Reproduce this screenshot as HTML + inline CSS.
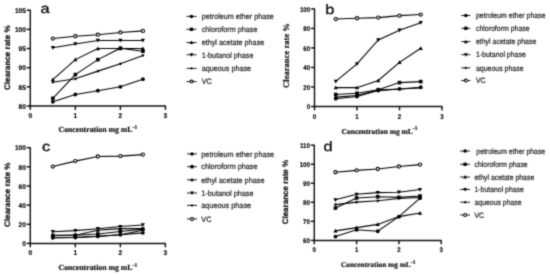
<!DOCTYPE html>
<html><head><meta charset="utf-8"><title>Clearance rate</title>
<style>
html,body{margin:0;padding:0;background:#fff;}
body{width:550px;height:274px;overflow:hidden;}
svg{display:block;text-rendering:geometricPrecision;}
</style></head>
<body>
<svg width="550" height="274" viewBox="0 0 550 274">
<defs><filter id="soft" x="0" y="0" width="1" height="1" filterUnits="objectBoundingBox" color-interpolation-filters="sRGB"><feConvolveMatrix order="3" kernelMatrix="1 4 1 4 16 4 1 4 1" edgeMode="duplicate"/></filter></defs>
<rect width="550" height="274" fill="#fff"/>
<g filter="url(#soft)">
<rect width="550" height="274" fill="#fff"/>
<line x1="30.30" y1="9.70" x2="30.30" y2="106.72" stroke="#111" stroke-width="1.45"/>
<line x1="29.57" y1="106.00" x2="165.95" y2="106.00" stroke="#111" stroke-width="1.45"/>
<line x1="26.70" y1="106.00" x2="30.30" y2="106.00" stroke="#111" stroke-width="1.45"/>
<text transform="translate(25.90,108.70) scale(0.97,1)" text-anchor="end" font-family='"Liberation Sans", Arial, sans-serif' font-weight="bold" font-size="6.8" fill="#000" stroke="#000" stroke-width="0.12">80</text>
<line x1="26.70" y1="86.84" x2="30.30" y2="86.84" stroke="#111" stroke-width="1.45"/>
<text transform="translate(25.90,89.54) scale(0.97,1)" text-anchor="end" font-family='"Liberation Sans", Arial, sans-serif' font-weight="bold" font-size="6.8" fill="#000" stroke="#000" stroke-width="0.12">85</text>
<line x1="26.70" y1="67.68" x2="30.30" y2="67.68" stroke="#111" stroke-width="1.45"/>
<text transform="translate(25.90,70.38) scale(0.97,1)" text-anchor="end" font-family='"Liberation Sans", Arial, sans-serif' font-weight="bold" font-size="6.8" fill="#000" stroke="#000" stroke-width="0.12">90</text>
<line x1="26.70" y1="48.52" x2="30.30" y2="48.52" stroke="#111" stroke-width="1.45"/>
<text transform="translate(25.90,51.22) scale(0.97,1)" text-anchor="end" font-family='"Liberation Sans", Arial, sans-serif' font-weight="bold" font-size="6.8" fill="#000" stroke="#000" stroke-width="0.12">95</text>
<line x1="26.70" y1="29.36" x2="30.30" y2="29.36" stroke="#111" stroke-width="1.45"/>
<text transform="translate(25.90,32.06) scale(0.97,1)" text-anchor="end" font-family='"Liberation Sans", Arial, sans-serif' font-weight="bold" font-size="6.8" fill="#000" stroke="#000" stroke-width="0.12">100</text>
<line x1="26.70" y1="10.20" x2="30.30" y2="10.20" stroke="#111" stroke-width="1.45"/>
<text transform="translate(25.90,12.90) scale(0.97,1)" text-anchor="end" font-family='"Liberation Sans", Arial, sans-serif' font-weight="bold" font-size="6.8" fill="#000" stroke="#000" stroke-width="0.12">105</text>
<line x1="30.30" y1="106.00" x2="30.30" y2="109.90" stroke="#111" stroke-width="1.45"/>
<text transform="translate(30.30,117.60) scale(0.97,1)" text-anchor="middle" font-family='"Liberation Sans", Arial, sans-serif' font-weight="bold" font-size="6.8" fill="#000" stroke="#000" stroke-width="0.12">0</text>
<line x1="75.35" y1="106.00" x2="75.35" y2="109.90" stroke="#111" stroke-width="1.45"/>
<text transform="translate(75.35,117.60) scale(0.97,1)" text-anchor="middle" font-family='"Liberation Sans", Arial, sans-serif' font-weight="bold" font-size="6.8" fill="#000" stroke="#000" stroke-width="0.12">1</text>
<line x1="120.40" y1="106.00" x2="120.40" y2="109.90" stroke="#111" stroke-width="1.45"/>
<text transform="translate(120.40,117.60) scale(0.97,1)" text-anchor="middle" font-family='"Liberation Sans", Arial, sans-serif' font-weight="bold" font-size="6.8" fill="#000" stroke="#000" stroke-width="0.12">2</text>
<line x1="165.45" y1="106.00" x2="165.45" y2="109.90" stroke="#111" stroke-width="1.45"/>
<text transform="translate(165.45,117.60) scale(0.97,1)" text-anchor="middle" font-family='"Liberation Sans", Arial, sans-serif' font-weight="bold" font-size="6.8" fill="#000" stroke="#000" stroke-width="0.12">3</text>
<polyline points="52.83,38.56 75.35,36.26 97.87,34.72 120.40,32.43 142.93,30.89" fill="none" stroke="#000" stroke-width="1.1"/>
<polyline points="52.83,47.75 75.35,43.92 97.87,40.47 120.40,40.47 142.93,40.47" fill="none" stroke="#000" stroke-width="1.1"/>
<polyline points="52.83,79.56 75.35,59.63 97.87,48.52 120.40,48.52 142.93,48.52" fill="none" stroke="#000" stroke-width="1.1"/>
<polyline points="52.83,98.34 75.35,74.58 97.87,59.63 120.40,48.14 142.93,51.20" fill="none" stroke="#000" stroke-width="1.1"/>
<polyline points="52.83,82.24 75.35,78.79 97.87,71.13 120.40,63.85 142.93,55.42" fill="none" stroke="#000" stroke-width="1.1"/>
<polyline points="52.83,101.78 75.35,94.50 97.87,90.67 120.40,86.84 142.93,79.18" fill="none" stroke="#000" stroke-width="1.1"/>
<circle cx="52.83" cy="38.56" r="1.60" fill="#fff" stroke="#000" stroke-width="1.1"/>
<circle cx="75.35" cy="36.26" r="1.60" fill="#fff" stroke="#000" stroke-width="1.1"/>
<circle cx="97.87" cy="34.72" r="1.60" fill="#fff" stroke="#000" stroke-width="1.1"/>
<circle cx="120.40" cy="32.43" r="1.60" fill="#fff" stroke="#000" stroke-width="1.1"/>
<circle cx="142.93" cy="30.89" r="1.60" fill="#fff" stroke="#000" stroke-width="1.1"/>
<path d="M52.83,49.85 L54.93,46.07 L50.73,46.07Z" fill="#000"/>
<path d="M75.35,46.02 L77.45,42.24 L73.25,42.24Z" fill="#000"/>
<path d="M97.87,42.57 L99.97,38.79 L95.77,38.79Z" fill="#000"/>
<path d="M120.40,42.57 L122.50,38.79 L118.30,38.79Z" fill="#000"/>
<path d="M142.93,42.57 L145.03,38.79 L140.83,38.79Z" fill="#000"/>
<path d="M52.83,77.46 L54.93,81.24 L50.73,81.24Z" fill="#000"/>
<path d="M75.35,57.53 L77.45,61.31 L73.25,61.31Z" fill="#000"/>
<path d="M97.87,46.42 L99.97,50.20 L95.77,50.20Z" fill="#000"/>
<path d="M120.40,46.42 L122.50,50.20 L118.30,50.20Z" fill="#000"/>
<path d="M142.93,46.42 L145.03,50.20 L140.83,50.20Z" fill="#000"/>
<rect x="51.03" y="96.54" width="3.60" height="3.60" fill="#000"/>
<rect x="73.55" y="72.78" width="3.60" height="3.60" fill="#000"/>
<rect x="96.07" y="57.83" width="3.60" height="3.60" fill="#000"/>
<rect x="118.60" y="46.34" width="3.60" height="3.60" fill="#000"/>
<rect x="141.12" y="49.40" width="3.60" height="3.60" fill="#000"/>
<path d="M52.83,80.64 L54.43,82.24 L52.83,83.84 L51.23,82.24Z" fill="#000"/>
<path d="M75.35,77.19 L76.95,78.79 L75.35,80.39 L73.75,78.79Z" fill="#000"/>
<path d="M97.87,69.53 L99.47,71.13 L97.87,72.73 L96.27,71.13Z" fill="#000"/>
<path d="M120.40,62.25 L122.00,63.85 L120.40,65.45 L118.80,63.85Z" fill="#000"/>
<path d="M142.93,53.82 L144.53,55.42 L142.93,57.02 L141.33,55.42Z" fill="#000"/>
<circle cx="52.83" cy="101.78" r="1.90" fill="#000"/>
<circle cx="75.35" cy="94.50" r="1.90" fill="#000"/>
<circle cx="97.87" cy="90.67" r="1.90" fill="#000"/>
<circle cx="120.40" cy="86.84" r="1.90" fill="#000"/>
<circle cx="142.93" cy="79.18" r="1.90" fill="#000"/>
<text transform="translate(40.6,13.0) scale(1.22,1)" font-family='"Liberation Sans", Arial, sans-serif' font-size="13.4" fill="#111" stroke="#111" stroke-width="0.35">a</text>
<text transform="translate(9.8,57.7) rotate(-90)" text-anchor="middle" font-family='"Liberation Sans", Arial, sans-serif' font-weight="bold" font-size="8.0" fill="#111" stroke="#111" stroke-width="0.2">Clearance rate %</text>
<text x="58.5" y="132.0" font-family='"Liberation Serif", "Times New Roman", serif' font-weight="bold" font-size="7.8" fill="#111" stroke="#111" stroke-width="0.2">Concentration mg mL<tspan dy="-3.2" font-size="5.6">-1</tspan></text>
<line x1="186.5" y1="16.40" x2="196.5" y2="16.40" stroke="#000" stroke-width="0.9"/>
<circle cx="191.50" cy="16.40" r="1.75" fill="#000"/>
<text transform="translate(201.70,19.10) scale(0.925,1)" font-family='"Liberation Sans", Arial, sans-serif' font-size="7.8" fill="#1a1a1a" stroke="#1a1a1a" stroke-width="0.2">petroleum ether phase</text>
<line x1="186.5" y1="29.30" x2="196.5" y2="29.30" stroke="#000" stroke-width="0.9"/>
<rect x="189.84" y="27.64" width="3.31" height="3.31" fill="#000"/>
<text transform="translate(201.70,32.00) scale(0.925,1)" font-family='"Liberation Sans", Arial, sans-serif' font-size="7.8" fill="#1a1a1a" stroke="#1a1a1a" stroke-width="0.2">chloroform phase</text>
<line x1="186.5" y1="42.50" x2="196.5" y2="42.50" stroke="#000" stroke-width="0.9"/>
<path d="M191.50,40.57 L193.43,44.05 L189.57,44.05Z" fill="#000"/>
<text transform="translate(201.70,45.20) scale(0.925,1)" font-family='"Liberation Sans", Arial, sans-serif' font-size="7.8" fill="#1a1a1a" stroke="#1a1a1a" stroke-width="0.2">ethyl acetate phase</text>
<line x1="186.5" y1="54.80" x2="196.5" y2="54.80" stroke="#000" stroke-width="0.9"/>
<path d="M191.50,56.73 L193.43,53.25 L189.57,53.25Z" fill="#000"/>
<text transform="translate(201.70,57.50) scale(0.925,1)" font-family='"Liberation Sans", Arial, sans-serif' font-size="7.8" fill="#1a1a1a" stroke="#1a1a1a" stroke-width="0.2">1-butanol phase</text>
<line x1="186.5" y1="68.40" x2="196.5" y2="68.40" stroke="#000" stroke-width="0.9"/>
<path d="M191.50,66.93 L192.97,68.40 L191.50,69.87 L190.03,68.40Z" fill="#000"/>
<text transform="translate(201.70,71.10) scale(0.925,1)" font-family='"Liberation Sans", Arial, sans-serif' font-size="7.8" fill="#1a1a1a" stroke="#1a1a1a" stroke-width="0.2">aqueous phase</text>
<line x1="186.5" y1="81.60" x2="196.5" y2="81.60" stroke="#000" stroke-width="0.9"/>
<circle cx="191.50" cy="81.60" r="1.47" fill="#fff" stroke="#000" stroke-width="1.1"/>
<text transform="translate(201.70,84.30) scale(0.925,1)" font-family='"Liberation Sans", Arial, sans-serif' font-size="7.8" fill="#1a1a1a" stroke="#1a1a1a" stroke-width="0.2">VC</text>
<line x1="314.50" y1="8.40" x2="314.50" y2="107.22" stroke="#111" stroke-width="1.45"/>
<line x1="313.77" y1="106.50" x2="442.50" y2="106.50" stroke="#111" stroke-width="1.45"/>
<line x1="310.90" y1="106.50" x2="314.50" y2="106.50" stroke="#111" stroke-width="1.45"/>
<text transform="translate(310.10,109.20) scale(0.9,1)" text-anchor="end" font-family='"Liberation Sans", Arial, sans-serif' font-weight="bold" font-size="6.8" fill="#000" stroke="#000" stroke-width="0.12">0</text>
<line x1="310.90" y1="86.98" x2="314.50" y2="86.98" stroke="#111" stroke-width="1.45"/>
<text transform="translate(310.10,89.68) scale(0.9,1)" text-anchor="end" font-family='"Liberation Sans", Arial, sans-serif' font-weight="bold" font-size="6.8" fill="#000" stroke="#000" stroke-width="0.12">20</text>
<line x1="310.90" y1="67.46" x2="314.50" y2="67.46" stroke="#111" stroke-width="1.45"/>
<text transform="translate(310.10,70.16) scale(0.9,1)" text-anchor="end" font-family='"Liberation Sans", Arial, sans-serif' font-weight="bold" font-size="6.8" fill="#000" stroke="#000" stroke-width="0.12">40</text>
<line x1="310.90" y1="47.94" x2="314.50" y2="47.94" stroke="#111" stroke-width="1.45"/>
<text transform="translate(310.10,50.64) scale(0.9,1)" text-anchor="end" font-family='"Liberation Sans", Arial, sans-serif' font-weight="bold" font-size="6.8" fill="#000" stroke="#000" stroke-width="0.12">60</text>
<line x1="310.90" y1="28.42" x2="314.50" y2="28.42" stroke="#111" stroke-width="1.45"/>
<text transform="translate(310.10,31.12) scale(0.9,1)" text-anchor="end" font-family='"Liberation Sans", Arial, sans-serif' font-weight="bold" font-size="6.8" fill="#000" stroke="#000" stroke-width="0.12">80</text>
<line x1="310.90" y1="8.90" x2="314.50" y2="8.90" stroke="#111" stroke-width="1.45"/>
<text transform="translate(310.10,11.60) scale(0.9,1)" text-anchor="end" font-family='"Liberation Sans", Arial, sans-serif' font-weight="bold" font-size="6.8" fill="#000" stroke="#000" stroke-width="0.12">100</text>
<line x1="314.50" y1="106.50" x2="314.50" y2="110.40" stroke="#111" stroke-width="1.45"/>
<text transform="translate(314.50,118.90) scale(0.9,1)" text-anchor="middle" font-family='"Liberation Sans", Arial, sans-serif' font-weight="bold" font-size="6.8" fill="#000" stroke="#000" stroke-width="0.12">0</text>
<line x1="357.00" y1="106.50" x2="357.00" y2="110.40" stroke="#111" stroke-width="1.45"/>
<text transform="translate(357.00,118.90) scale(0.9,1)" text-anchor="middle" font-family='"Liberation Sans", Arial, sans-serif' font-weight="bold" font-size="6.8" fill="#000" stroke="#000" stroke-width="0.12">1</text>
<line x1="399.50" y1="106.50" x2="399.50" y2="110.40" stroke="#111" stroke-width="1.45"/>
<text transform="translate(399.50,118.90) scale(0.9,1)" text-anchor="middle" font-family='"Liberation Sans", Arial, sans-serif' font-weight="bold" font-size="6.8" fill="#000" stroke="#000" stroke-width="0.12">2</text>
<line x1="442.00" y1="106.50" x2="442.00" y2="110.40" stroke="#111" stroke-width="1.45"/>
<text transform="translate(442.00,118.90) scale(0.9,1)" text-anchor="middle" font-family='"Liberation Sans", Arial, sans-serif' font-weight="bold" font-size="6.8" fill="#000" stroke="#000" stroke-width="0.12">3</text>
<polyline points="335.75,19.05 357.00,18.27 378.25,17.59 399.50,15.63 420.75,14.56" fill="none" stroke="#000" stroke-width="1.1"/>
<polyline points="335.75,81.32 357.00,63.95 378.25,39.94 399.50,30.27 420.75,22.66" fill="none" stroke="#000" stroke-width="1.1"/>
<polyline points="335.75,87.66 357.00,87.66 378.25,80.54 399.50,62.38 420.75,48.23" fill="none" stroke="#000" stroke-width="1.1"/>
<polyline points="335.75,94.50 357.00,93.23 378.25,89.71 399.50,82.59 420.75,81.61" fill="none" stroke="#000" stroke-width="1.1"/>
<polyline points="335.75,97.13 357.00,95.47 378.25,90.10 399.50,88.93 420.75,87.96" fill="none" stroke="#000" stroke-width="1.1"/>
<polyline points="335.75,98.69 357.00,96.54 378.25,90.59 399.50,88.93 420.75,87.18" fill="none" stroke="#000" stroke-width="1.1"/>
<circle cx="335.75" cy="19.05" r="1.60" fill="#fff" stroke="#000" stroke-width="1.1"/>
<circle cx="357.00" cy="18.27" r="1.60" fill="#fff" stroke="#000" stroke-width="1.1"/>
<circle cx="378.25" cy="17.59" r="1.60" fill="#fff" stroke="#000" stroke-width="1.1"/>
<circle cx="399.50" cy="15.63" r="1.60" fill="#fff" stroke="#000" stroke-width="1.1"/>
<circle cx="420.75" cy="14.56" r="1.60" fill="#fff" stroke="#000" stroke-width="1.1"/>
<path d="M335.75,83.42 L337.85,79.64 L333.65,79.64Z" fill="#000"/>
<path d="M357.00,66.05 L359.10,62.27 L354.90,62.27Z" fill="#000"/>
<path d="M378.25,42.04 L380.35,38.26 L376.15,38.26Z" fill="#000"/>
<path d="M399.50,32.37 L401.60,28.59 L397.40,28.59Z" fill="#000"/>
<path d="M420.75,24.76 L422.85,20.98 L418.65,20.98Z" fill="#000"/>
<path d="M335.75,85.56 L337.85,89.34 L333.65,89.34Z" fill="#000"/>
<path d="M357.00,85.56 L359.10,89.34 L354.90,89.34Z" fill="#000"/>
<path d="M378.25,78.44 L380.35,82.22 L376.15,82.22Z" fill="#000"/>
<path d="M399.50,60.28 L401.60,64.06 L397.40,64.06Z" fill="#000"/>
<path d="M420.75,46.13 L422.85,49.91 L418.65,49.91Z" fill="#000"/>
<rect x="333.95" y="92.70" width="3.60" height="3.60" fill="#000"/>
<rect x="355.20" y="91.43" width="3.60" height="3.60" fill="#000"/>
<rect x="376.45" y="87.91" width="3.60" height="3.60" fill="#000"/>
<rect x="397.70" y="80.79" width="3.60" height="3.60" fill="#000"/>
<rect x="418.95" y="79.81" width="3.60" height="3.60" fill="#000"/>
<path d="M335.75,95.53 L337.35,97.13 L335.75,98.73 L334.15,97.13Z" fill="#000"/>
<path d="M357.00,93.87 L358.60,95.47 L357.00,97.07 L355.40,95.47Z" fill="#000"/>
<path d="M378.25,88.50 L379.85,90.10 L378.25,91.70 L376.65,90.10Z" fill="#000"/>
<path d="M399.50,87.33 L401.10,88.93 L399.50,90.53 L397.90,88.93Z" fill="#000"/>
<path d="M420.75,86.36 L422.35,87.96 L420.75,89.56 L419.15,87.96Z" fill="#000"/>
<circle cx="335.75" cy="98.69" r="1.90" fill="#000"/>
<circle cx="357.00" cy="96.54" r="1.90" fill="#000"/>
<circle cx="378.25" cy="90.59" r="1.90" fill="#000"/>
<circle cx="399.50" cy="88.93" r="1.90" fill="#000"/>
<circle cx="420.75" cy="87.18" r="1.90" fill="#000"/>
<text transform="translate(325.3,14.0) scale(1.22,1)" font-family='"Liberation Sans", Arial, sans-serif' font-size="13.4" fill="#111" stroke="#111" stroke-width="0.35">b</text>
<text transform="translate(288.5,55.5) rotate(-90)" text-anchor="middle" font-family='"Liberation Serif", "Times New Roman", serif' font-weight="bold" font-size="8.6" fill="#111" stroke="#111" stroke-width="0.2">Clearance rate %</text>
<text x="341.6" y="133.6" font-family='"Liberation Serif", "Times New Roman", serif' font-weight="bold" font-size="7.5" fill="#111" stroke="#111" stroke-width="0.2">Concentration mg mL<tspan dy="-3.2" font-size="5.6">-1</tspan></text>
<line x1="461.3" y1="15.50" x2="470.4" y2="15.50" stroke="#000" stroke-width="0.9"/>
<circle cx="465.85" cy="15.50" r="1.75" fill="#000"/>
<text transform="translate(475.90,18.20) scale(0.893,1)" font-family='"Liberation Sans", Arial, sans-serif' font-size="7.8" fill="#1a1a1a" stroke="#1a1a1a" stroke-width="0.2">petroleum ether phase</text>
<line x1="461.3" y1="28.30" x2="470.4" y2="28.30" stroke="#000" stroke-width="0.9"/>
<rect x="464.19" y="26.64" width="3.31" height="3.31" fill="#000"/>
<text transform="translate(475.90,31.00) scale(0.893,1)" font-family='"Liberation Sans", Arial, sans-serif' font-size="7.8" fill="#1a1a1a" stroke="#1a1a1a" stroke-width="0.2">chloroform phase</text>
<line x1="461.3" y1="41.60" x2="470.4" y2="41.60" stroke="#000" stroke-width="0.9"/>
<path d="M465.85,39.67 L467.78,43.15 L463.92,43.15Z" fill="#000"/>
<text transform="translate(475.90,44.30) scale(0.893,1)" font-family='"Liberation Sans", Arial, sans-serif' font-size="7.8" fill="#1a1a1a" stroke="#1a1a1a" stroke-width="0.2">ethyl acetate phase</text>
<line x1="461.3" y1="54.70" x2="470.4" y2="54.70" stroke="#000" stroke-width="0.9"/>
<path d="M465.85,56.63 L467.78,53.15 L463.92,53.15Z" fill="#000"/>
<text transform="translate(475.90,57.40) scale(0.893,1)" font-family='"Liberation Sans", Arial, sans-serif' font-size="7.8" fill="#1a1a1a" stroke="#1a1a1a" stroke-width="0.2">1-butanol phase</text>
<line x1="461.3" y1="67.90" x2="470.4" y2="67.90" stroke="#000" stroke-width="0.9"/>
<path d="M465.85,66.43 L467.32,67.90 L465.85,69.37 L464.38,67.90Z" fill="#000"/>
<text transform="translate(475.90,70.60) scale(0.893,1)" font-family='"Liberation Sans", Arial, sans-serif' font-size="7.8" fill="#1a1a1a" stroke="#1a1a1a" stroke-width="0.2">aqueous phase</text>
<line x1="461.3" y1="80.60" x2="470.4" y2="80.60" stroke="#000" stroke-width="0.9"/>
<circle cx="465.85" cy="80.60" r="1.47" fill="#fff" stroke="#000" stroke-width="1.1"/>
<text transform="translate(475.90,83.30) scale(0.893,1)" font-family='"Liberation Sans", Arial, sans-serif' font-size="7.8" fill="#1a1a1a" stroke="#1a1a1a" stroke-width="0.2">VC</text>
<line x1="30.30" y1="147.20" x2="30.30" y2="244.12" stroke="#111" stroke-width="1.45"/>
<line x1="29.57" y1="243.40" x2="165.86" y2="243.40" stroke="#111" stroke-width="1.45"/>
<line x1="26.70" y1="243.40" x2="30.30" y2="243.40" stroke="#111" stroke-width="1.45"/>
<text transform="translate(25.90,246.10) scale(0.97,1)" text-anchor="end" font-family='"Liberation Sans", Arial, sans-serif' font-weight="bold" font-size="6.8" fill="#000" stroke="#000" stroke-width="0.12">0</text>
<line x1="26.70" y1="224.26" x2="30.30" y2="224.26" stroke="#111" stroke-width="1.45"/>
<text transform="translate(25.90,226.96) scale(0.97,1)" text-anchor="end" font-family='"Liberation Sans", Arial, sans-serif' font-weight="bold" font-size="6.8" fill="#000" stroke="#000" stroke-width="0.12">20</text>
<line x1="26.70" y1="205.12" x2="30.30" y2="205.12" stroke="#111" stroke-width="1.45"/>
<text transform="translate(25.90,207.82) scale(0.97,1)" text-anchor="end" font-family='"Liberation Sans", Arial, sans-serif' font-weight="bold" font-size="6.8" fill="#000" stroke="#000" stroke-width="0.12">40</text>
<line x1="26.70" y1="185.98" x2="30.30" y2="185.98" stroke="#111" stroke-width="1.45"/>
<text transform="translate(25.90,188.68) scale(0.97,1)" text-anchor="end" font-family='"Liberation Sans", Arial, sans-serif' font-weight="bold" font-size="6.8" fill="#000" stroke="#000" stroke-width="0.12">60</text>
<line x1="26.70" y1="166.84" x2="30.30" y2="166.84" stroke="#111" stroke-width="1.45"/>
<text transform="translate(25.90,169.54) scale(0.97,1)" text-anchor="end" font-family='"Liberation Sans", Arial, sans-serif' font-weight="bold" font-size="6.8" fill="#000" stroke="#000" stroke-width="0.12">80</text>
<line x1="26.70" y1="147.70" x2="30.30" y2="147.70" stroke="#111" stroke-width="1.45"/>
<text transform="translate(25.90,150.40) scale(0.97,1)" text-anchor="end" font-family='"Liberation Sans", Arial, sans-serif' font-weight="bold" font-size="6.8" fill="#000" stroke="#000" stroke-width="0.12">100</text>
<line x1="30.30" y1="243.40" x2="30.30" y2="247.30" stroke="#111" stroke-width="1.45"/>
<text transform="translate(30.30,255.40) scale(0.97,1)" text-anchor="middle" font-family='"Liberation Sans", Arial, sans-serif' font-weight="bold" font-size="6.8" fill="#000" stroke="#000" stroke-width="0.12">0</text>
<line x1="75.32" y1="243.40" x2="75.32" y2="247.30" stroke="#111" stroke-width="1.45"/>
<text transform="translate(75.32,255.40) scale(0.97,1)" text-anchor="middle" font-family='"Liberation Sans", Arial, sans-serif' font-weight="bold" font-size="6.8" fill="#000" stroke="#000" stroke-width="0.12">1</text>
<line x1="120.34" y1="243.40" x2="120.34" y2="247.30" stroke="#111" stroke-width="1.45"/>
<text transform="translate(120.34,255.40) scale(0.97,1)" text-anchor="middle" font-family='"Liberation Sans", Arial, sans-serif' font-weight="bold" font-size="6.8" fill="#000" stroke="#000" stroke-width="0.12">2</text>
<line x1="165.36" y1="243.40" x2="165.36" y2="247.30" stroke="#111" stroke-width="1.45"/>
<text transform="translate(165.36,255.40) scale(0.97,1)" text-anchor="middle" font-family='"Liberation Sans", Arial, sans-serif' font-weight="bold" font-size="6.8" fill="#000" stroke="#000" stroke-width="0.12">3</text>
<polyline points="52.81,166.55 75.32,161.10 97.83,156.50 120.34,156.12 142.85,154.59" fill="none" stroke="#000" stroke-width="1.1"/>
<polyline points="52.81,231.72 75.32,230.58 97.83,228.76 120.34,226.56 142.85,224.93" fill="none" stroke="#000" stroke-width="1.1"/>
<polyline points="52.81,235.36 75.32,235.17 97.83,230.19 120.34,228.66 142.85,228.66" fill="none" stroke="#000" stroke-width="1.1"/>
<polyline points="52.81,235.46 75.32,235.27 97.83,234.02 120.34,231.44 142.85,229.14" fill="none" stroke="#000" stroke-width="1.1"/>
<polyline points="52.81,237.66 75.32,237.47 97.83,236.22 120.34,234.69 142.85,230.19" fill="none" stroke="#000" stroke-width="1.1"/>
<polyline points="52.81,237.75 75.32,237.56 97.83,236.41 120.34,234.69 142.85,232.87" fill="none" stroke="#000" stroke-width="1.1"/>
<circle cx="52.81" cy="166.55" r="1.60" fill="#fff" stroke="#000" stroke-width="1.1"/>
<circle cx="75.32" cy="161.10" r="1.60" fill="#fff" stroke="#000" stroke-width="1.1"/>
<circle cx="97.83" cy="156.50" r="1.60" fill="#fff" stroke="#000" stroke-width="1.1"/>
<circle cx="120.34" cy="156.12" r="1.60" fill="#fff" stroke="#000" stroke-width="1.1"/>
<circle cx="142.85" cy="154.59" r="1.60" fill="#fff" stroke="#000" stroke-width="1.1"/>
<path d="M52.81,233.82 L54.91,230.04 L50.71,230.04Z" fill="#000"/>
<path d="M75.32,232.68 L77.42,228.90 L73.22,228.90Z" fill="#000"/>
<path d="M97.83,230.86 L99.93,227.08 L95.73,227.08Z" fill="#000"/>
<path d="M120.34,228.66 L122.44,224.88 L118.24,224.88Z" fill="#000"/>
<path d="M142.85,227.03 L144.95,223.25 L140.75,223.25Z" fill="#000"/>
<path d="M52.81,233.26 L54.91,237.04 L50.71,237.04Z" fill="#000"/>
<path d="M75.32,233.07 L77.42,236.85 L73.22,236.85Z" fill="#000"/>
<path d="M97.83,228.09 L99.93,231.87 L95.73,231.87Z" fill="#000"/>
<path d="M120.34,226.56 L122.44,230.34 L118.24,230.34Z" fill="#000"/>
<path d="M142.85,226.56 L144.95,230.34 L140.75,230.34Z" fill="#000"/>
<rect x="51.01" y="233.66" width="3.60" height="3.60" fill="#000"/>
<rect x="73.52" y="233.47" width="3.60" height="3.60" fill="#000"/>
<rect x="96.03" y="232.22" width="3.60" height="3.60" fill="#000"/>
<rect x="118.54" y="229.64" width="3.60" height="3.60" fill="#000"/>
<rect x="141.05" y="227.34" width="3.60" height="3.60" fill="#000"/>
<path d="M52.81,236.06 L54.41,237.66 L52.81,239.26 L51.21,237.66Z" fill="#000"/>
<path d="M75.32,235.87 L76.92,237.47 L75.32,239.07 L73.72,237.47Z" fill="#000"/>
<path d="M97.83,234.62 L99.43,236.22 L97.83,237.82 L96.23,236.22Z" fill="#000"/>
<path d="M120.34,233.09 L121.94,234.69 L120.34,236.29 L118.74,234.69Z" fill="#000"/>
<path d="M142.85,228.59 L144.45,230.19 L142.85,231.79 L141.25,230.19Z" fill="#000"/>
<circle cx="52.81" cy="237.75" r="1.90" fill="#000"/>
<circle cx="75.32" cy="237.56" r="1.90" fill="#000"/>
<circle cx="97.83" cy="236.41" r="1.90" fill="#000"/>
<circle cx="120.34" cy="234.69" r="1.90" fill="#000"/>
<circle cx="142.85" cy="232.87" r="1.90" fill="#000"/>
<text transform="translate(42.0,151.0) scale(1.22,1)" font-family='"Liberation Sans", Arial, sans-serif' font-size="13.4" fill="#111" stroke="#111" stroke-width="0.35">c</text>
<text transform="translate(9.7,194.8) rotate(-90)" text-anchor="middle" font-family='"Liberation Sans", Arial, sans-serif' font-weight="bold" font-size="8.0" fill="#111" stroke="#111" stroke-width="0.2">Clearance rate %</text>
<text x="58.5" y="270.0" font-family='"Liberation Serif", "Times New Roman", serif' font-weight="bold" font-size="7.8" fill="#111" stroke="#111" stroke-width="0.2">Concentration mg mL<tspan dy="-3.2" font-size="5.6">-1</tspan></text>
<line x1="187.0" y1="153.90" x2="197.0" y2="153.90" stroke="#000" stroke-width="0.9"/>
<circle cx="192.00" cy="153.90" r="1.75" fill="#000"/>
<text transform="translate(201.30,156.60) scale(0.934,1)" font-family='"Liberation Sans", Arial, sans-serif' font-size="7.8" fill="#1a1a1a" stroke="#1a1a1a" stroke-width="0.2">petroleum ether phase</text>
<line x1="187.0" y1="166.70" x2="197.0" y2="166.70" stroke="#000" stroke-width="0.9"/>
<rect x="190.34" y="165.04" width="3.31" height="3.31" fill="#000"/>
<text transform="translate(201.30,169.40) scale(0.934,1)" font-family='"Liberation Sans", Arial, sans-serif' font-size="7.8" fill="#1a1a1a" stroke="#1a1a1a" stroke-width="0.2">chloroform phase</text>
<line x1="187.0" y1="179.80" x2="197.0" y2="179.80" stroke="#000" stroke-width="0.9"/>
<path d="M192.00,177.87 L193.93,181.35 L190.07,181.35Z" fill="#000"/>
<text transform="translate(201.30,182.50) scale(0.934,1)" font-family='"Liberation Sans", Arial, sans-serif' font-size="7.8" fill="#1a1a1a" stroke="#1a1a1a" stroke-width="0.2">ethyl acetate phase</text>
<line x1="187.0" y1="193.00" x2="197.0" y2="193.00" stroke="#000" stroke-width="0.9"/>
<path d="M192.00,194.93 L193.93,191.45 L190.07,191.45Z" fill="#000"/>
<text transform="translate(201.30,195.70) scale(0.934,1)" font-family='"Liberation Sans", Arial, sans-serif' font-size="7.8" fill="#1a1a1a" stroke="#1a1a1a" stroke-width="0.2">1-butanol phase</text>
<line x1="187.0" y1="205.40" x2="197.0" y2="205.40" stroke="#000" stroke-width="0.9"/>
<path d="M192.00,203.93 L193.47,205.40 L192.00,206.87 L190.53,205.40Z" fill="#000"/>
<text transform="translate(201.30,208.10) scale(0.934,1)" font-family='"Liberation Sans", Arial, sans-serif' font-size="7.8" fill="#1a1a1a" stroke="#1a1a1a" stroke-width="0.2">aqueous phase</text>
<line x1="187.0" y1="218.90" x2="197.0" y2="218.90" stroke="#000" stroke-width="0.9"/>
<circle cx="192.00" cy="218.90" r="1.47" fill="#fff" stroke="#000" stroke-width="1.1"/>
<text transform="translate(201.30,221.60) scale(0.934,1)" font-family='"Liberation Sans", Arial, sans-serif' font-size="7.8" fill="#1a1a1a" stroke="#1a1a1a" stroke-width="0.2">VC</text>
<line x1="314.30" y1="144.70" x2="314.30" y2="241.12" stroke="#111" stroke-width="1.45"/>
<line x1="313.57" y1="240.40" x2="441.70" y2="240.40" stroke="#111" stroke-width="1.45"/>
<line x1="310.70" y1="240.40" x2="314.30" y2="240.40" stroke="#111" stroke-width="1.45"/>
<text transform="translate(309.90,243.10) scale(0.9,1)" text-anchor="end" font-family='"Liberation Sans", Arial, sans-serif' font-weight="bold" font-size="6.8" fill="#000" stroke="#000" stroke-width="0.12">60</text>
<line x1="310.70" y1="221.36" x2="314.30" y2="221.36" stroke="#111" stroke-width="1.45"/>
<text transform="translate(309.90,224.06) scale(0.9,1)" text-anchor="end" font-family='"Liberation Sans", Arial, sans-serif' font-weight="bold" font-size="6.8" fill="#000" stroke="#000" stroke-width="0.12">70</text>
<line x1="310.70" y1="202.32" x2="314.30" y2="202.32" stroke="#111" stroke-width="1.45"/>
<text transform="translate(309.90,205.02) scale(0.9,1)" text-anchor="end" font-family='"Liberation Sans", Arial, sans-serif' font-weight="bold" font-size="6.8" fill="#000" stroke="#000" stroke-width="0.12">80</text>
<line x1="310.70" y1="183.28" x2="314.30" y2="183.28" stroke="#111" stroke-width="1.45"/>
<text transform="translate(309.90,185.98) scale(0.9,1)" text-anchor="end" font-family='"Liberation Sans", Arial, sans-serif' font-weight="bold" font-size="6.8" fill="#000" stroke="#000" stroke-width="0.12">90</text>
<line x1="310.70" y1="164.24" x2="314.30" y2="164.24" stroke="#111" stroke-width="1.45"/>
<text transform="translate(309.90,166.94) scale(0.9,1)" text-anchor="end" font-family='"Liberation Sans", Arial, sans-serif' font-weight="bold" font-size="6.8" fill="#000" stroke="#000" stroke-width="0.12">100</text>
<line x1="310.70" y1="145.20" x2="314.30" y2="145.20" stroke="#111" stroke-width="1.45"/>
<text transform="translate(309.90,147.90) scale(0.9,1)" text-anchor="end" font-family='"Liberation Sans", Arial, sans-serif' font-weight="bold" font-size="6.8" fill="#000" stroke="#000" stroke-width="0.12">110</text>
<line x1="314.30" y1="240.40" x2="314.30" y2="244.30" stroke="#111" stroke-width="1.45"/>
<text transform="translate(314.30,252.40) scale(0.9,1)" text-anchor="middle" font-family='"Liberation Sans", Arial, sans-serif' font-weight="bold" font-size="6.8" fill="#000" stroke="#000" stroke-width="0.12">0</text>
<line x1="356.60" y1="240.40" x2="356.60" y2="244.30" stroke="#111" stroke-width="1.45"/>
<text transform="translate(356.60,252.40) scale(0.9,1)" text-anchor="middle" font-family='"Liberation Sans", Arial, sans-serif' font-weight="bold" font-size="6.8" fill="#000" stroke="#000" stroke-width="0.12">1</text>
<line x1="398.90" y1="240.40" x2="398.90" y2="244.30" stroke="#111" stroke-width="1.45"/>
<text transform="translate(398.90,252.40) scale(0.9,1)" text-anchor="middle" font-family='"Liberation Sans", Arial, sans-serif' font-weight="bold" font-size="6.8" fill="#000" stroke="#000" stroke-width="0.12">2</text>
<line x1="441.20" y1="240.40" x2="441.20" y2="244.30" stroke="#111" stroke-width="1.45"/>
<text transform="translate(441.20,252.40) scale(0.9,1)" text-anchor="middle" font-family='"Liberation Sans", Arial, sans-serif' font-weight="bold" font-size="6.8" fill="#000" stroke="#000" stroke-width="0.12">3</text>
<polyline points="335.45,172.24 356.60,170.33 377.75,169.00 398.90,166.52 420.05,164.62" fill="none" stroke="#000" stroke-width="1.1"/>
<polyline points="335.45,199.84 356.60,194.32 377.75,192.61 398.90,192.23 420.05,189.56" fill="none" stroke="#000" stroke-width="1.1"/>
<polyline points="335.45,230.88 356.60,227.64 377.75,224.41 398.90,216.60 420.05,212.98" fill="none" stroke="#000" stroke-width="1.1"/>
<polyline points="335.45,208.03 356.60,197.94 377.75,196.80 398.90,197.37 420.05,196.04" fill="none" stroke="#000" stroke-width="1.1"/>
<polyline points="335.45,204.60 356.60,202.13 377.75,200.80 398.90,198.51 420.05,197.56" fill="none" stroke="#000" stroke-width="1.1"/>
<polyline points="335.45,236.59 356.60,229.74 377.75,231.26 398.90,216.60 420.05,198.13" fill="none" stroke="#000" stroke-width="1.1"/>
<circle cx="335.45" cy="172.24" r="1.60" fill="#fff" stroke="#000" stroke-width="1.1"/>
<circle cx="356.60" cy="170.33" r="1.60" fill="#fff" stroke="#000" stroke-width="1.1"/>
<circle cx="377.75" cy="169.00" r="1.60" fill="#fff" stroke="#000" stroke-width="1.1"/>
<circle cx="398.90" cy="166.52" r="1.60" fill="#fff" stroke="#000" stroke-width="1.1"/>
<circle cx="420.05" cy="164.62" r="1.60" fill="#fff" stroke="#000" stroke-width="1.1"/>
<path d="M335.45,201.94 L337.55,198.16 L333.35,198.16Z" fill="#000"/>
<path d="M356.60,196.42 L358.70,192.64 L354.50,192.64Z" fill="#000"/>
<path d="M377.75,194.71 L379.85,190.93 L375.65,190.93Z" fill="#000"/>
<path d="M398.90,194.33 L401.00,190.55 L396.80,190.55Z" fill="#000"/>
<path d="M420.05,191.66 L422.15,187.88 L417.95,187.88Z" fill="#000"/>
<path d="M335.45,228.78 L337.55,232.56 L333.35,232.56Z" fill="#000"/>
<path d="M356.60,225.54 L358.70,229.32 L354.50,229.32Z" fill="#000"/>
<path d="M377.75,222.31 L379.85,226.09 L375.65,226.09Z" fill="#000"/>
<path d="M398.90,214.50 L401.00,218.28 L396.80,218.28Z" fill="#000"/>
<path d="M420.05,210.88 L422.15,214.66 L417.95,214.66Z" fill="#000"/>
<rect x="333.65" y="206.23" width="3.60" height="3.60" fill="#000"/>
<rect x="354.80" y="196.14" width="3.60" height="3.60" fill="#000"/>
<rect x="375.95" y="195.00" width="3.60" height="3.60" fill="#000"/>
<rect x="397.10" y="195.57" width="3.60" height="3.60" fill="#000"/>
<rect x="418.25" y="194.24" width="3.60" height="3.60" fill="#000"/>
<path d="M335.45,203.00 L337.05,204.60 L335.45,206.20 L333.85,204.60Z" fill="#000"/>
<path d="M356.60,200.53 L358.20,202.13 L356.60,203.73 L355.00,202.13Z" fill="#000"/>
<path d="M377.75,199.20 L379.35,200.80 L377.75,202.40 L376.15,200.80Z" fill="#000"/>
<path d="M398.90,196.91 L400.50,198.51 L398.90,200.11 L397.30,198.51Z" fill="#000"/>
<path d="M420.05,195.96 L421.65,197.56 L420.05,199.16 L418.45,197.56Z" fill="#000"/>
<circle cx="335.45" cy="236.59" r="1.90" fill="#000"/>
<circle cx="356.60" cy="229.74" r="1.90" fill="#000"/>
<circle cx="377.75" cy="231.26" r="1.90" fill="#000"/>
<circle cx="398.90" cy="216.60" r="1.90" fill="#000"/>
<circle cx="420.05" cy="198.13" r="1.90" fill="#000"/>
<text transform="translate(323.5,150.5) scale(1.22,1)" font-family='"Liberation Sans", Arial, sans-serif' font-size="13.4" fill="#111" stroke="#111" stroke-width="0.35">d</text>
<text transform="translate(288.3,192.1) rotate(-90)" text-anchor="middle" font-family='"Liberation Sans", Arial, sans-serif' font-weight="bold" font-size="8.0" fill="#111" stroke="#111" stroke-width="0.2">Clearance rate %</text>
<text x="341.0" y="267.4" font-family='"Liberation Serif", "Times New Roman", serif' font-weight="bold" font-size="7.35" fill="#111" stroke="#111" stroke-width="0.2">Concentration mg mL<tspan dy="-3.2" font-size="5.6">-1</tspan></text>
<line x1="460.2" y1="151.10" x2="470.0" y2="151.10" stroke="#000" stroke-width="0.9"/>
<circle cx="465.10" cy="151.10" r="1.75" fill="#000"/>
<text transform="translate(476.30,153.80) scale(0.883,1)" font-family='"Liberation Sans", Arial, sans-serif' font-size="7.8" fill="#1a1a1a" stroke="#1a1a1a" stroke-width="0.2">petroleum ether phase</text>
<line x1="460.2" y1="164.30" x2="470.0" y2="164.30" stroke="#000" stroke-width="0.9"/>
<rect x="463.44" y="162.64" width="3.31" height="3.31" fill="#000"/>
<text transform="translate(474.50,167.00) scale(0.883,1)" font-family='"Liberation Sans", Arial, sans-serif' font-size="7.8" fill="#1a1a1a" stroke="#1a1a1a" stroke-width="0.2">chloroform phase</text>
<line x1="460.2" y1="177.00" x2="470.0" y2="177.00" stroke="#000" stroke-width="0.9"/>
<path d="M465.10,175.07 L467.03,178.55 L463.17,178.55Z" fill="#000"/>
<text transform="translate(474.50,179.70) scale(0.883,1)" font-family='"Liberation Sans", Arial, sans-serif' font-size="7.8" fill="#1a1a1a" stroke="#1a1a1a" stroke-width="0.2">ethyl acetate phase</text>
<line x1="460.2" y1="189.50" x2="470.0" y2="189.50" stroke="#000" stroke-width="0.9"/>
<path d="M465.10,191.43 L467.03,187.95 L463.17,187.95Z" fill="#000"/>
<text transform="translate(474.50,192.20) scale(0.883,1)" font-family='"Liberation Sans", Arial, sans-serif' font-size="7.8" fill="#1a1a1a" stroke="#1a1a1a" stroke-width="0.2">1-butanol phase</text>
<line x1="460.2" y1="202.20" x2="470.0" y2="202.20" stroke="#000" stroke-width="0.9"/>
<path d="M465.10,200.73 L466.57,202.20 L465.10,203.67 L463.63,202.20Z" fill="#000"/>
<text transform="translate(474.50,204.90) scale(0.883,1)" font-family='"Liberation Sans", Arial, sans-serif' font-size="7.8" fill="#1a1a1a" stroke="#1a1a1a" stroke-width="0.2">aqueous phase</text>
<line x1="460.2" y1="215.00" x2="470.0" y2="215.00" stroke="#000" stroke-width="0.9"/>
<circle cx="465.10" cy="215.00" r="1.47" fill="#fff" stroke="#000" stroke-width="1.1"/>
<text transform="translate(474.50,217.70) scale(0.883,1)" font-family='"Liberation Sans", Arial, sans-serif' font-size="7.8" fill="#1a1a1a" stroke="#1a1a1a" stroke-width="0.2">VC</text>
</g>
</svg>
</body></html>
